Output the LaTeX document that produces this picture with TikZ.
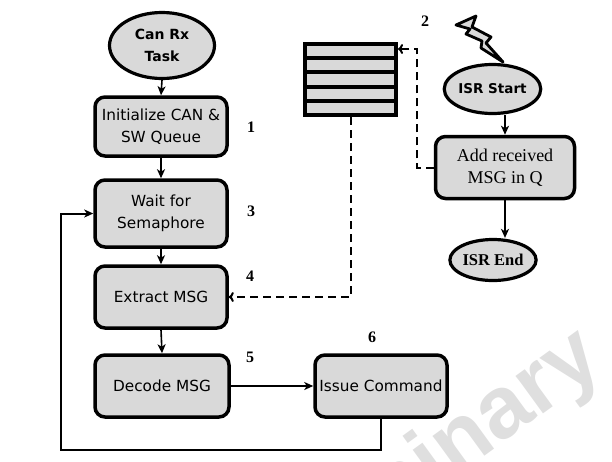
\documentclass[tikz,border=0pt]{standalone}
\usepackage{fontspec}
\setmainfont{DejaVu Sans}
\newfontfamily\sansf{DejaVu Sans}
\newfontfamily\serf{Liberation Serif}
\newfontfamily\wmf{Liberation Sans}
\usetikzlibrary{arrows.meta,shapes.geometric}
\definecolor{boxgray}{HTML}{D9D9D9}
\definecolor{wmgray}{HTML}{DFDFDF}
\begin{document}
\begin{tikzpicture}[x=1pt,y=-1pt,
  procbox/.style={draw, line width=3.5pt, rounded corners=10pt, fill=boxgray, inner sep=0pt, align=center, font=\sansf\fontsize{15.3}{22}\selectfont},
  ovalnode/.style={draw, ellipse, line width=3.2pt, fill=boxgray, inner sep=0pt, align=center},
  num/.style={font=\serf\bfseries\fontsize{16}{16}\selectfont, inner sep=0pt},
  flow/.style={line width=1.6pt, -{Stealth[length=9pt,width=8pt,inset=2.5pt]}},
  loopline/.style={line width=2pt, -{Stealth[length=9pt,width=8pt,inset=2.5pt]}},
  dashflow/.style={line width=2pt, dash pattern=on 8pt off 5pt, -{To[length=5pt,width=10pt]}},
  queuebox/.style={draw, line width=4pt, fill=boxgray, inner sep=0pt, minimum width=91pt, minimum height=71pt}
]
\useasboundingbox (0,0) rectangle (612,461);
% watermark
\begin{scope}
\clip (0,0) rectangle (612,461);
\node[rotate=36, anchor=base east, text=wmgray, font=\wmf\bfseries\fontsize{88}{88}\selectfont, inner sep=0pt] (wm) at (606,368) {Preliminary};
\end{scope}

% left column
\node[ovalnode, minimum width=105pt, minimum height=66pt, font=\sansf\bfseries\fontsize{14}{22}\selectfont] (canrx) at (162,45.5) {Can Rx\\Task};
\node[procbox, minimum width=132pt, minimum height=59pt] (init) at (161,126.5) {Initialize CAN \&\\SW Queue};
\node[procbox, minimum width=132pt, minimum height=67pt] (wait) at (161,213.5) {Wait for\\Semaphore};
\node[procbox, minimum width=132pt, minimum height=62pt] (extract) at (161,297) {Extract MSG};
\node[procbox, minimum width=134pt, minimum height=62pt] (decode) at (162,386) {Decode MSG};
\node[procbox, minimum width=132pt, minimum height=62pt] (issue) at (381,386) {Issue Command};

% queue
\node[queuebox] (queue) at (350.5,79.5) {};
\foreach \yy in {58.2,72.4,86.6,100.8}
  \draw[line width=4pt] (queue.west |- 0,\yy) -- (queue.east |- 0,\yy);

% ISR column
\node[ovalnode, minimum width=88pt, minimum height=49pt, font=\sansf\bfseries\fontsize{13.5}{16}\selectfont] (isrstart) at (492.5,89) {ISR Start};
\node[procbox, minimum width=139pt, minimum height=62pt, font=\serf\fontsize{18}{22}\selectfont] (add) at (505,167.5) {Add received\\MSG in Q};
\node[ovalnode, minimum width=85pt, minimum height=41pt, font=\serf\bfseries\fontsize{16.5}{18}\selectfont] (isrend) at (493,260) {ISR End};

% lightning bolt
\draw[line width=2.8pt, line join=round, fill=boxgray]
  (456,25) -- (476,16) -- (472,27) -- (491,37) -- (486,43) -- (503,62)
  -- (481,48) -- (482,41) -- (466,34) -- (470,29) -- cycle;

% numbers
\node[num] (n1) at (251,127) {1};
\node[num] (n2) at (425,21) {2};
\node[num] (n3) at (251,211) {3};
\node[num] (n4) at (250,276) {4};
\node[num] (n5) at (250,357) {5};
\node[num] (n6) at (372,337) {6};

% arrows
\draw[flow] (canrx.south) -- (init.north);
\draw[flow] (init.south) -- (wait.north);
\draw[flow] (wait.south) -- (extract.north);
\draw[flow] (extract.south) -- (decode.north);
\draw[flow] (decode.east) -- (issue.west);
\coordinate (loopa) at (381,450);
\coordinate (loopb) at (61,450);
\draw[loopline] (issue.south) -- (loopa) -- (loopb) |- (wait.west);
\draw[flow] (isrstart.south -| add.north) -- (add.north);
\draw[flow] (add.south) -- (isrend.north -| add.south);
\coordinate (dq) at (417,49);
\draw[dashflow] (add.west) -| (dq) -- (dq -| queue.east);
\draw[dashflow] (queue.south) |- (extract.east);
\end{tikzpicture}
\end{document}
